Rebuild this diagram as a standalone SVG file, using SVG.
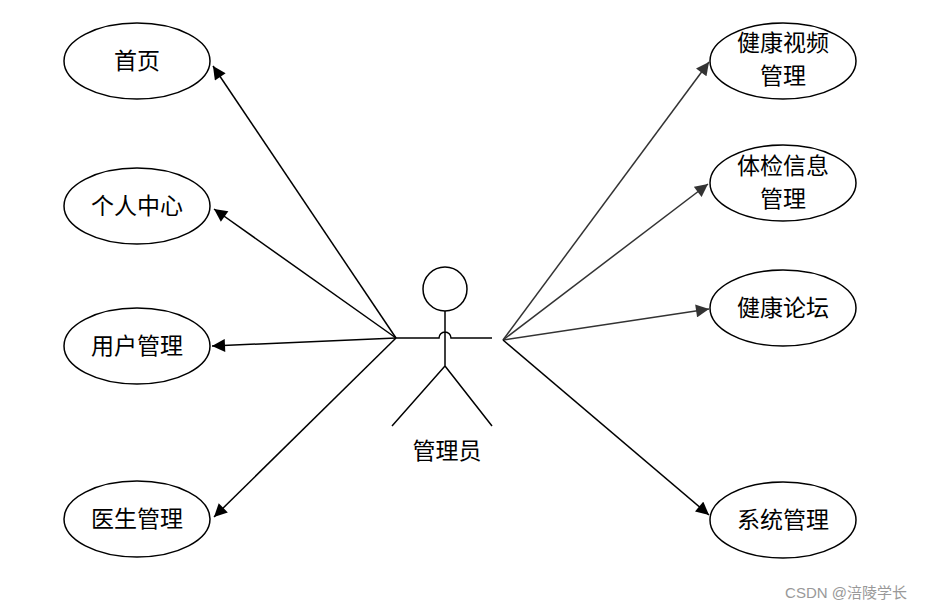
<svg xmlns="http://www.w3.org/2000/svg" width="930" height="610" viewBox="0 0 930 610">
<style>
.n{fill:#fff;stroke:#000;stroke-width:1.5}
.t{font-family:"Liberation Sans","Noto Sans CJK SC",sans-serif;font-size:23px;text-anchor:middle;fill:#000}
.c{stroke:#000;stroke-width:1.5;fill:none}
.g{stroke:#333;stroke-width:1.5;fill:none}
</style>
<defs>
<marker id="a" viewBox="0 0 10 10" refX="10" refY="5" markerWidth="14" markerHeight="13" markerUnits="userSpaceOnUse" orient="auto"><path d="M0,0L10,5L0,10z" fill="#000"/></marker>
<marker id="b" viewBox="0 0 10 10" refX="10" refY="5" markerWidth="14" markerHeight="13" markerUnits="userSpaceOnUse" orient="auto"><path d="M0,0L10,5L0,10z" fill="#333"/></marker>
</defs>
<rect width="930" height="610" fill="#fff"/>
<g id="connectors">
<line class="c" x1="396" y1="338" x2="213" y2="66" marker-end="url(#a)"/>
<line class="c" x1="396" y1="338" x2="214" y2="209" marker-end="url(#a)"/>
<line class="c" x1="396" y1="338" x2="212" y2="346" marker-end="url(#a)"/>
<line class="c" x1="396" y1="338" x2="214" y2="517" marker-end="url(#a)"/>
<line class="g" x1="503" y1="340" x2="709" y2="62" marker-end="url(#b)"/>
<line class="g" x1="503" y1="340" x2="708" y2="184" marker-end="url(#b)"/>
<line class="g" x1="503" y1="340" x2="709" y2="309" marker-end="url(#b)"/>
<line class="c" x1="503" y1="340" x2="709" y2="515" marker-end="url(#a)"/>
</g>
<g id="actor">
<circle class="n" cx="445" cy="289" r="22"/>
<path class="c" d="M396,338H439A6,6 0 0 1 451,338H492M445,311V366L392,426M445,366L492,426"/>
<text class="t" x="447" y="459">管理员</text>
</g>
<g id="n1"><ellipse class="n" cx="137" cy="61" rx="73" ry="38"/><text class="t" x="137" y="69">首页</text></g>
<g id="n2"><ellipse class="n" cx="137" cy="206" rx="73" ry="38"/><text class="t" x="137" y="214">个人中心</text></g>
<g id="n3"><ellipse class="n" cx="137" cy="346" rx="73" ry="38"/><text class="t" x="137" y="354">用户管理</text></g>
<g id="n4"><ellipse class="n" cx="137" cy="519" rx="73" ry="38"/><text class="t" x="137" y="527">医生管理</text></g>
<g id="n5"><ellipse class="n" cx="783" cy="61" rx="73" ry="38"/><text class="t" x="783" y="51">健康视频</text><text class="t" x="783" y="84">管理</text></g>
<g id="n6"><ellipse class="n" cx="783" cy="183" rx="73" ry="38"/><text class="t" x="783" y="174">体检信息</text><text class="t" x="783" y="207">管理</text></g>
<g id="n7"><ellipse class="n" cx="783" cy="308" rx="73" ry="38"/><text class="t" x="783" y="316">健康论坛</text></g>
<g id="n8"><ellipse class="n" cx="783" cy="520" rx="73" ry="38"/><text class="t" x="783" y="528">系统管理</text></g>
<text x="846" y="598" style="font-family:'Liberation Sans','Noto Sans CJK SC',sans-serif;font-size:15px;fill:#999;text-anchor:middle">CSDN @涪陵学长</text>
</svg>
